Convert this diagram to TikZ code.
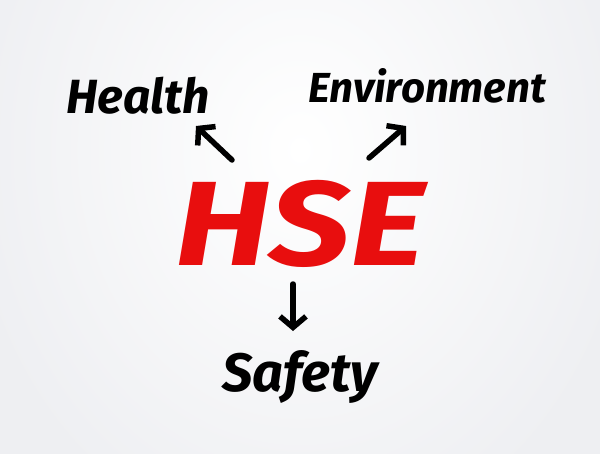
\documentclass[tikz,border=0pt]{standalone}
\usepackage{fontspec}
\setmainfont{Fira Sans}
\usetikzlibrary{arrows.meta}
\definecolor{bgedge}{RGB}{238,239,242}
\definecolor{hsered}{RGB}{232,14,14}
\tikzset{
  word/.style={font=\bfseries\itshape, text=black, inner sep=0pt},
  bigword/.style={font=\fontsize{120}{130}\selectfont\bfseries\itshape, text=hsered, inner sep=0pt, xscale=1.2},
  pointer/.style={line width=5.5pt, line cap=round, line join=round, -{Straight Barb[length=11pt,width=26pt,line width=5.5pt]}},
}
\begin{document}
\begin{tikzpicture}[x=1pt,y=-1pt]
  \useasboundingbox (0,0) rectangle (600,453);
  \shade[inner color=white, outer color=bgedge] (-40,-260) rectangle (640,560);
  \node[word, font=\fontsize{48}{54}\selectfont\bfseries\itshape] (health) at (138,96) {Health};
  \node[word, font=\fontsize{42}{48}\selectfont\bfseries\itshape] (env) at (427,86) {Environment};
  \node[bigword] (hse) at (300,224) {HSE};
  \node[word, font=\fontsize{54}{60}\selectfont\bfseries\itshape] (safety) at (300,377) {Safety};
  \coordinate (hs) at (232,160);
  \coordinate (he) at (196,126);
  \coordinate (es) at (369,158);
  \coordinate (ee) at (406,126);
  \coordinate (ss) at (293,284);
  \coordinate (se) at (293,331);
  \draw[pointer] (hs) -- (he);
  \draw[pointer] (es) -- (ee);
  \draw[pointer] (ss) -- (se);
\end{tikzpicture}
\end{document}
